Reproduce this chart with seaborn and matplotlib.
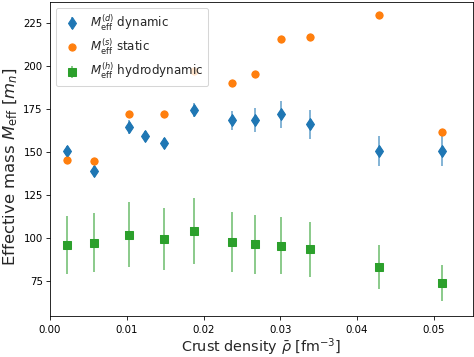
import matplotlib
matplotlib.use("Agg")
import matplotlib.pyplot as plt
import seaborn as sns
import numpy as np
import pandas as pd

# Dynamic effective mass
dyn_x = [0.00226, 0.00577, 0.01033, 0.01237, 0.0148, 0.0187, 0.02374, 0.0267, 0.03004, 0.03381, 0.0428, 0.0510]
dyn_y = [150.8, 139.3, 164.8, 159.4, 155.3, 174.4, 168.7, 168.9, 172.0, 166.2, 150.6, 150.6]
dyn_err = [3.0, 2.5, 4.0, 3.0, 3.0, 4.0, 5.5, 7.0, 8.0, 8.3, 8.9, 8.9]

# Static effective mass
sta_x = [0.00226, 0.00577, 0.01033, 0.0148, 0.0187, 0.02374, 0.0267, 0.03004, 0.03381, 0.0428, 0.0510]
sta_y = [145.2, 144.6, 172.4, 172.4, 197.5, 190.5, 195.3, 215.7, 217.0, 230.1, 161.9]

# Hydrodynamic effective mass
hyd_x = [0.00226, 0.00577, 0.01033, 0.0148, 0.0187, 0.02374, 0.0267, 0.03004, 0.03381, 0.0428, 0.0510]
hyd_y = [95.9, 97.3, 101.9, 99.6, 103.9, 97.8, 96.3, 95.5, 93.6, 82.9, 73.9]
hyd_err = [16.8, 17.2, 18.9, 18.0, 19.2, 17.5, 17.0, 16.6, 16.0, 12.8, 10.3]

labels = [r"$M_{\rm eff}^{(d)}$ dynamic", r"$M_{\rm eff}^{(s)}$ static", r"$M_{\rm eff}^{(h)}$ hydrodynamic"]
x_ticks = [0.00, 0.01, 0.02, 0.03, 0.04, 0.05]
y_ticks = [75, 100, 125, 150, 175, 200, 225]

sns.set_style("ticks")
plt.rcParams['font.family'] = ['DejaVu Sans']
pal = sns.color_palette("tab10")
c_dyn, c_sta, c_hyd = pal[0], pal[1], pal[2]

dpi = 74
fig = plt.figure(figsize=(474 / dpi, 357 / dpi), dpi=dpi)
ax = fig.add_axes([50 / 474, 1 - 316 / 357, 423 / 474, 314 / 357])

df_dyn = pd.DataFrame({"x": dyn_x, "y": dyn_y, "e": dyn_err})
df_sta = pd.DataFrame({"x": sta_x, "y": sta_y})
df_hyd = pd.DataFrame({"x": hyd_x, "y": hyd_y, "e": hyd_err})

h1 = ax.errorbar(df_dyn.x, df_dyn.y, yerr=df_dyn.e, fmt='d', color=c_dyn, ms=8.5,
                 ecolor=c_dyn, elinewidth=1.5, label=labels[0])
h1[2][0].set_alpha(0.7)
h2 = ax.errorbar(df_sta.x, df_sta.y, fmt='o', color=c_sta, ms=7, label=labels[1])
h3 = ax.errorbar(df_hyd.x, df_hyd.y, yerr=df_hyd.e, fmt='s', color=c_hyd, ms=7,
                 ecolor=c_hyd, elinewidth=1.5, label=labels[2])
h3[2][0].set_alpha(0.7)

sns.scatterplot(data=df_dyn, x="x", y="y", marker='d', s=72, color=c_dyn, edgecolor=c_dyn, linewidth=0, ax=ax, legend=False, zorder=3)
sns.scatterplot(data=df_sta, x="x", y="y", marker='o', s=49, color=c_sta, edgecolor=c_sta, linewidth=0, ax=ax, legend=False, zorder=3)
sns.scatterplot(data=df_hyd, x="x", y="y", marker='s', s=49, color=c_hyd, edgecolor=c_hyd, linewidth=0, ax=ax, legend=False, zorder=3)

ax.set_xlim(0, 0.0551)
ax.set_ylim(54.6, 237.5)
ax.set_xticks(x_ticks)
ax.set_xticklabels([f"{t:.2f}" for t in x_ticks], fontsize=10)
ax.set_yticks(y_ticks)
ax.set_yticklabels([str(t) for t in y_ticks], fontsize=10)
ax.set_xlabel(r"Crust density $\bar{\rho}$ [fm$^{-3}$]", fontsize=14, labelpad=2)
ax.set_ylabel(r"Effective mass $M_{\rm eff}$ [$m_n$]", fontsize=16, labelpad=3)
ax.yaxis.label.set_y(0.476)
for s in ax.spines.values():
    s.set_visible(True)
    s.set_color('black')
ax.tick_params(direction='out', length=3.5, width=0.8, colors='black')
ax.tick_params(axis='x', pad=5)

ax.legend(handles=[h1, h2, h3], labels=labels, loc='upper left', fontsize=11.5,
          framealpha=0.8, handletextpad=0.5, borderpad=0.4, labelspacing=0.35)

fig.savefig("out.png", dpi=dpi)
